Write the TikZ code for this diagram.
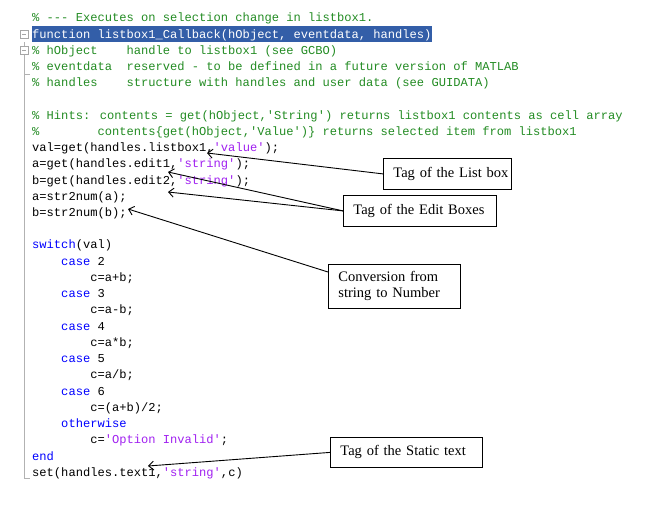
\documentclass[tikz,border=0pt]{standalone}
\usepackage{fontspec}
\setmainfont{Liberation Serif}
\newfontfamily\codefont{Liberation Mono}
\usetikzlibrary{positioning,arrows.meta}
\definecolor{cmtgreen}{RGB}{34,139,34}
\definecolor{kwblue}{RGB}{0,0,255}
\definecolor{strpurple}{RGB}{160,32,240}
\definecolor{selblue}{RGB}{51,94,168}
\newcommand{\cm}[1]{\textcolor{cmtgreen}{#1}}
\newcommand{\kw}[1]{\textcolor{kwblue}{#1}}
\newcommand{\st}[1]{\textcolor{strpurple}{#1}}
\tikzset{
  code/.style={anchor=base west, inner sep=0pt, font=\codefont\fontsize{12.1}{14}\selectfont},
  tag/.style={draw, thick, anchor=north west, align=left, inner sep=0pt, font=\fontsize{14.5}{16}\selectfont},
  callout/.style={-{Straight Barb[length=5pt,width=9pt]}, line width=0.9pt},
}
\begin{document}
\begin{tikzpicture}[x=1pt,y=-1pt]
    \useasboundingbox (0,0) rectangle (648,517);

    % fold markers
    \draw [gray!60] (24,42) -- (24,478) -- (30,478);
    \draw [gray!60] (24,74) -- (30,74);
    \foreach \yy in {34,50} {
      \draw [gray!70, fill=white] (20,\yy-4) rectangle (28,\yy+4);
      \draw [gray!70] (22,\yy) -- (26,\yy);
    }
    % selected line
    \fill [selblue] (32,26) rectangle (432,42);

    % code
    \node [code] (l1)  at (32,21)  {\cm{\% --- Executes on selection change in listbox1.}};
    \node [code] (l2)  at (32,38)  {\textcolor{white}{function listbox1\_Callback(hObject, eventdata, handles)}};
    \node [code] (l3)  at (32,54)  {\cm{\% hObject~~~~handle to listbox1 (see GCBO)}};
    \node [code] (l4)  at (32,70)  {\cm{\% eventdata~~reserved - to be defined in a future version of MATLAB}};
    \node [code] (l5)  at (32,86)  {\cm{\% handles~~~~structure with handles and user data (see GUIDATA)}};
    \node [code] (l7)  at (32,119) {\cm{\% Hints: contents = get(hObject,'String') returns listbox1 contents as cell array}};
    \node [code] (l8)  at (32,135) {\cm{\%~~~~~~~~contents\{get(hObject,'Value')\} returns selected item from listbox1}};
    \node [code] (l9)  at (32,151) {val=get(handles.listbox1,\st{'value'});};
    \node [code] (l10) at (32,167) {a=get(handles.edit1,\st{'string'});};
    \node [code] (l11) at (32,184) {b=get(handles.edit2,\st{'string'});};
    \node [code] (l12) at (32,200) {a=str2num(a);};
    \node [code] (l13) at (32,216) {b=str2num(b);};
    \node [code] (l15) at (32,248) {\kw{switch}(val)};
    \node [code] (l16) at (32,265) {~~~~\kw{case} 2};
    \node [code] (l17) at (32,281) {~~~~~~~~c=a+b;};
    \node [code] (l18) at (32,297) {~~~~\kw{case} 3};
    \node [code] (l19) at (32,313) {~~~~~~~~c=a-b;};
    \node [code] (l20) at (32,330) {~~~~\kw{case} 4};
    \node [code] (l21) at (32,346) {~~~~~~~~c=a*b;};
    \node [code] (l22) at (32,362) {~~~~\kw{case} 5};
    \node [code] (l23) at (32,378) {~~~~~~~~c=a/b;};
    \node [code] (l24) at (32,395) {~~~~\kw{case} 6};
    \node [code] (l25) at (32,411) {~~~~~~~~c=(a+b)/2;};
    \node [code] (l26) at (32,427) {~~~~\kw{otherwise}};
    \node [code] (l27) at (32,443) {~~~~~~~~c=\st{'Option Invalid'};};
    \node [code] (l28) at (32,460) {\kw{end}};
    \node [code] (l29) at (32,476) {set(handles.text1,\st{'string'},c)};

    % tags
    \node [tag, text width=128pt, minimum height=31pt] (listtag) at (383,158) {\hspace{10pt}Tag of the List box};
    \node [tag, text width=153pt, minimum height=31pt] (edittag) at (343,195) {\hspace{10pt}Tag of the Edit Boxes};
    \node [tag, text width=132pt, minimum height=44pt] (convtag) at (328,264) {\hspace{10pt}Conversion from\\\hspace{10pt}string to Number};
    \node [tag, text width=152pt, minimum height=30pt] (statictag) at (330,437) {\hspace{10pt}Tag of the Static text};

    % arrow ends
    \coordinate (listend)  at (207,153);
    \coordinate (edit1end) at (168,172);
    \coordinate (edit2end) at (168,192);
    \coordinate (convend)  at (128,209);
    \coordinate (textend)  at (148,466);

    % callouts
    \draw [callout] (listtag.west) -- (listend);
    \draw [callout] (edittag.west) -- (edit1end);
    \draw [callout] (edittag.west) -- (edit2end);
    \draw [callout] ([yshift=-8pt]convtag.north west) -- (convend);
    \draw [callout] (statictag.west) -- (textend);
\end{tikzpicture}
\end{document}
